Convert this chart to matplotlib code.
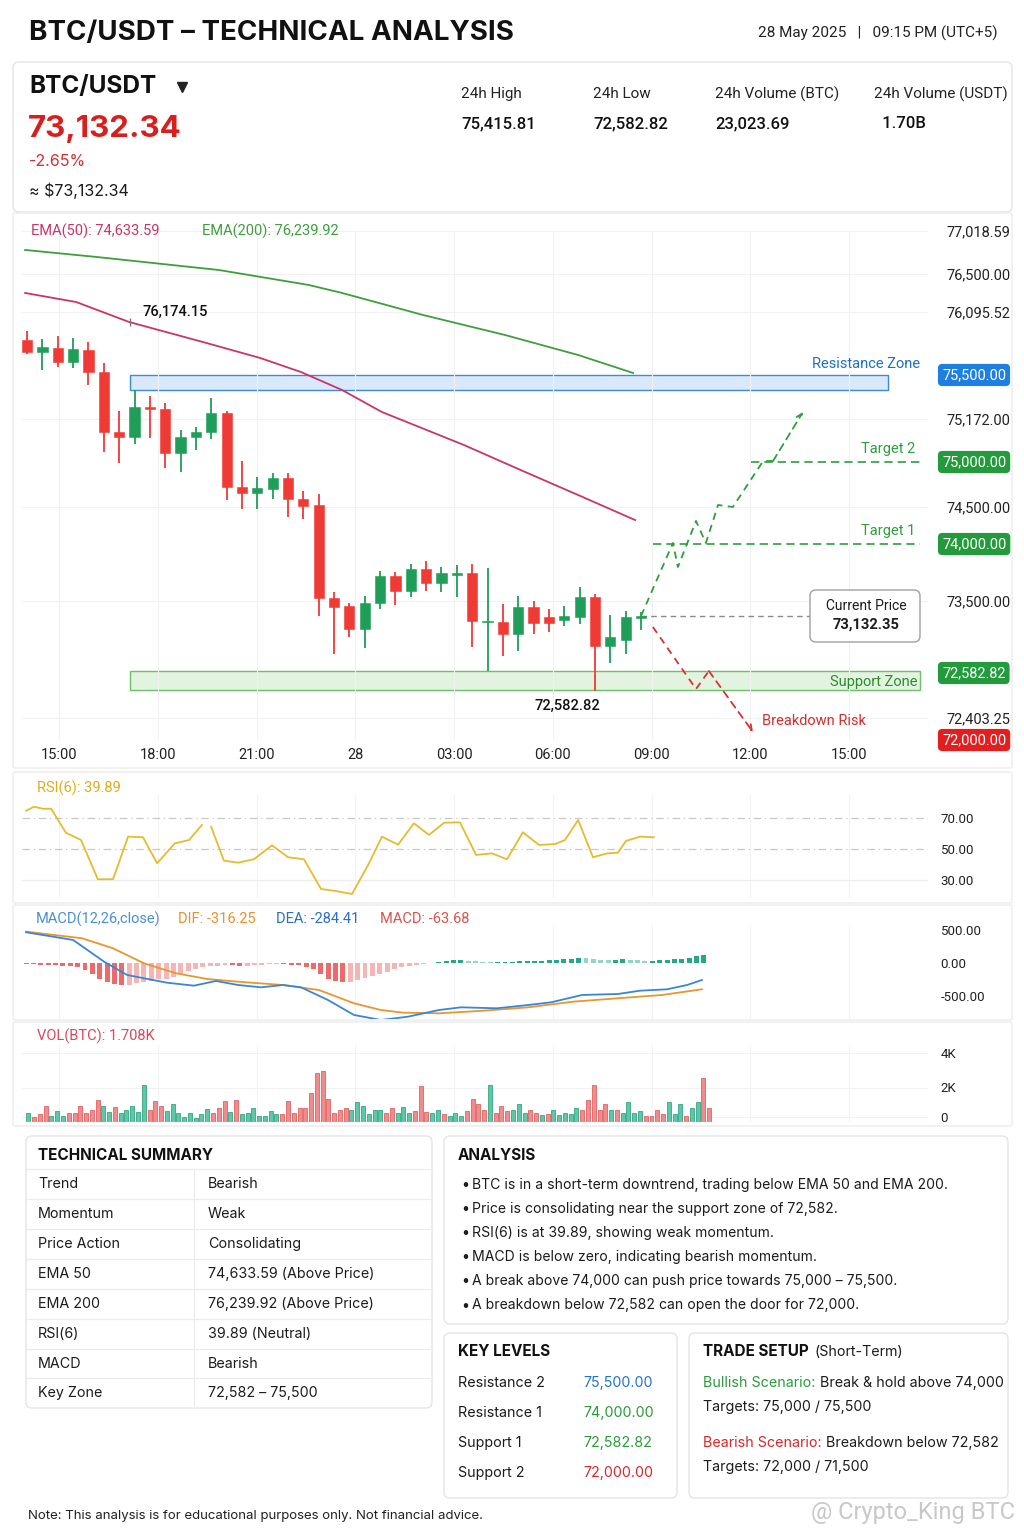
import numpy as np
import matplotlib
matplotlib.use("Agg")
import matplotlib.pyplot as plt
from matplotlib.patches import FancyBboxPatch, Rectangle
from matplotlib.transforms import blended_transform_factory
from matplotlib.ticker import NullLocator

plt.rcParams['font.family'] = ['Inter', 'DejaVu Sans']
CH = ['Roboto', 'DejaVu Sans']

W, H = 1024, 1536

# ---------------- data ----------------
OPEN = [75831, 75718, 75755, 75623, 75736, 75529, 75120, 75100, 75262, 75247, 75036, 75100, 75120, 75217,
        74722, 74656, 74700, 74822, 74589, 74522, 73526, 73436, 73143, 73475, 73719, 73588, 73781, 73658,
        73728, 73746, 73233, 73233, 73080, 73424, 73296, 73258, 73296, 73535, 72927, 73003, 73283]
HIGH = [75916, 75840, 75869, 75850, 75812, 75614, 75232, 75388, 75344, 75291, 75128, 75140, 75329, 75232,
        75004, 74833, 74878, 74878, 74678, 74645, 73579, 73475, 73544, 73763, 73754, 73825, 73851, 73798,
        73816, 73825, 73790, 73462, 73544, 73500, 73398, 73436, 73623, 73562, 73322, 73373, 73360]
LOW = [75699, 75547, 75576, 75566, 75426, 75040, 74989, 75072, 75096, 74933, 74889, 75048, 75092, 74578,
       74473, 74473, 74589, 74365, 74338, 73309, 72825, 73041, 72901, 73398, 73449, 73535, 73588, 73579,
       73535, 72914, 72608, 72799, 72863, 73080, 73105, 73182, 73207, 72511, 72710, 72825, 73131]
CLOSE = [75718, 75765, 75623, 75746, 75529, 75120, 75100, 75262, 75247, 75036, 75100, 75120, 75217, 74722,
         74656, 74711, 74822, 74589, 74511, 73526, 73424, 73143, 73475, 73719, 73588, 73781, 73658, 73746,
         73746, 73245, 73245, 73080, 73424, 73220, 73220, 73309, 73535, 72927, 73041, 73296, 73309]

EMA200_T = [-1.03, 1.15, 4.86, 7.59, 8.60, 11.06, 13.55, 15.77, 17.44]
EMA200_V = [76790, 76705, 76548, 76383, 76298, 76067, 75878, 75689, 75519]
EMA50_T = [-1.03, 0.52, 2.13, 4.37, 6.11, 7.35, 8.60, 9.81, 12.30, 14.16, 15.77, 17.50]
EMA50_V = [76298, 76202, 76001, 75812, 75661, 75528, 75388, 75224, 75068, 74889, 74633, 74324]

RES_ZONE = (75388, 75500)
SUP_ZONE = (72515, 72608)
ZONE_T0, RES_T1, SUP_T1 = 2.16, 25.18, 26.15
TARGET1, TARGET2 = 74000, 75000

BULL_T = [17.68, 18.65, 18.80, 19.35, 19.65, 20.02, 20.47, 21.39, 21.69, 22.60]
BULL_P = [73309, 74014, 73798, 74311, 74014, 74522, 74500, 75004, 75004, 75224]
BEAR_T = [18.04, 19.35, 19.74, 21.08]
BEAR_P = [73169, 72519, 72608, 72147]

PRICE_TICKS = [72000.00, 72403.25, 72582.82, 73500.00, 74000.00, 74500.00, 75000.00, 75172.00,
               75500.00, 76095.52, 76500.00, 77018.59]
BOXED = {75500.00: '#1f7fe0', 75000.00: '#239a3b', 74000.00: '#239a3b', 72582.82: '#239a3b',
         72000.00: '#e41e1e'}
X_TICKS = [0, 3, 6, 9, 12, 15, 18, 21, 24]
X_LABELS = ['15:00', '18:00', '21:00', '28', '03:00', '06:00', '09:00', '12:00', '15:00']

RSI_T = [-1.00, -0.76, -0.49, -0.24, 0.21, 0.67, 1.18, 1.64, 2.10, 2.55, 2.98, 3.52, 3.95, 4.34, 4.48,
         4.62, 5.01, 5.44, 5.92, 6.47, 6.96, 7.44, 7.96, 8.41, 8.90, 9.39, 9.81, 10.30, 10.78, 11.24,
         11.70, 12.18, 12.67, 13.15, 13.61, 14.09, 14.58, 15.07, 15.37, 15.77, 16.22, 16.65, 16.98,
         17.22, 17.65, 18.07]
RSI_V = [75.0, 77.6, 76.3, 76.3, 60.8, 56.1, 30.8, 30.8, 58.3, 57.9, 41.1, 54.0, 56.1, 65.8, np.nan,
         64.7, 42.8, 41.5, 43.7, 52.7, 45.0, 43.7, 24.5, 23.2, 21.3, 40.0, 58.3, 53.1, 66.9, 59.4,
         67.3, 67.5, 46.5, 47.5, 43.7, 61.1, 52.9, 53.5, 56.1, 69.0, 45.0, 47.5, 47.9, 55.5, 58.3, 57.9]

DEA_T = [-1.00, 0.43, 1.37, 2.07, 2.58, 3.28, 4.10, 4.77, 5.44, 6.14, 6.80, 7.35, 8.17, 8.96, 9.78,
         10.60, 11.54, 12.21, 13.30, 14.25, 14.95, 15.89, 16.98, 17.65, 18.47, 19.08, 19.53]
DEA_V = [473, 356, 27, -174, -224, -291, -336, -265, -326, -361, -326, -361, -553, -780, -856,
         -806, -705, -664, -679, -629, -588, -477, -462, -412, -391, -326, -250]
DIF_T = [-1.00, 0.70, 1.64, 2.58, 3.55, 4.50, 5.44, 6.80, 7.90, 8.96, 9.78, 10.45, 11.54, 12.91,
         14.25, 15.61, 16.98, 18.32, 19.53]
DIF_V = [482, 382, 230, 3, -148, -235, -276, -326, -402, -603, -705, -745, -755, -715, -664, -579,
         -527, -477, -391]
HIST = [-15, -15, -20, -25, -30, -35, -40, -50, -100, -160,
        -240, -280, -310, -330, -325, -295, -280, -260, -240, -230,
        -200, -160, -110, -80, -60, -45, -35, -25, -30, -40,
        -35, -25, -20, -15, -10, -15, -20, -30, -50, -90,
        -160, -240, -270, -285, -280, -250, -225, -190, -160, -125,
        -90, -60, -35, -20, -10,
        10, 25, 40, 50, 55, 45, 35, 25, 20, 20,
        25, 30, 35, 35, 40, 40, 50, 60, 65, 75,
        90, 85, 75, 60, 55, 60, 65, 60, 50, 45,
        45, 50, 60, 65, 75, 85, 110, 135]
HIST_SPAN = (-1.00, 19.59)

VOL = [0.54, 0.30, 0.44, 0.93, 0.35, 0.64, 0.35, 0.50, 0.50, 0.93,
       0.54, 0.70, 1.28, 0.93, 0.58, 0.89, 0.54, 0.70, 0.93, 0.58,
       2.14, 0.70, 1.22, 0.93, 0.64, 1.06, 0.54, 0.30, 0.54, 0.25,
       0.44, 0.73, 0.50, 0.83, 1.22, 0.58, 1.28, 0.44, 0.54, 0.83,
       0.35, 0.35, 0.64, 0.44, 0.44, 1.22, 0.50, 0.83, 0.83, 1.70,
       2.86, 2.96, 1.31, 0.54, 0.70, 0.83, 0.70, 1.18, 0.93, 0.44,
       0.70, 0.70, 0.54, 0.83, 0.50, 0.89, 0.54, 0.64, 2.09, 0.58,
       0.54, 0.70, 0.44, 0.35, 0.54, 0.35, 0.64, 1.31, 1.03, 0.70,
       2.12, 0.54, 0.93, 0.64, 0.70, 1.06, 0.54, 0.70, 0.54, 0.39,
       0.44, 0.70, 0.39, 0.50, 0.44, 0.83, 0.70, 1.28, 2.12, 0.70,
       1.03, 0.70, 0.70, 0.54, 1.18, 0.50, 0.64, 0.35, 0.35, 0.70,
       0.44, 1.16, 0.44, 1.06, 0.35, 0.83, 1.16, 2.57, 0.83]
VOL_DIR = ("uddduuuddd" "ddduuduuuu" "uddduuuuuu" "uuddduduuu" "uuuudddddd" "dddddduuuu"
           "uudduuuddd" "uuduuudddd" "uddduuuddu" "duuuuudddd" "duduuuuddd" "duuuduudd")
VOL_SPAN = (-0.93, 19.75)

SUMMARY = [("Trend", "Bearish"), ("Momentum", "Weak"), ("Price Action", "Consolidating"),
           ("EMA 50", "74,633.59 (Above Price)"), ("EMA 200", "76,239.92 (Above Price)"),
           ("RSI(6)", "39.89 (Neutral)"), ("MACD", "Bearish"), ("Key Zone", "72,582 \u2013 75,500")]
ANALYSIS = ["BTC is in a short-term downtrend, trading below EMA 50 and EMA 200.",
            "Price is consolidating near the support zone of 72,582.",
            "RSI(6) is at 39.89, showing weak momentum.",
            "MACD is below zero, indicating bearish momentum.",
            "A break above 74,000 can push price towards 75,000 \u2013 75,500.",
            "A breakdown below 72,582 can open the door for 72,000."]
KEY_LEVELS = [("Resistance 2", "75,500.00", '#1f74d0'), ("Resistance 1", "74,000.00", '#2a9a3a'),
              ("Support 1", "72,582.82", '#2a9a3a'), ("Support 2", "72,000.00", '#d62828')]

# ---------------- colours ----------------
RED = '#f03a35'
GREEN = '#1e9e58'
EMA50_C = '#c9356a'
EMA200_C = '#3f9e3f'
TXT = '#1c1c1c'
BODY_FS = 10.3

# ---------------- scale for price axis ----------------
TICK_POS = np.array([0, 22, 67, 139, 196, 233, 278, 321, 365, 428, 466, 509], float)
PT = np.array(PRICE_TICKS, float)


def _lin(v, xp, fp):
    v = np.asarray(v, float)
    out = np.interp(v, xp, fp)
    lo_s = (fp[1] - fp[0]) / (xp[1] - xp[0])
    hi_s = (fp[-1] - fp[-2]) / (xp[-1] - xp[-2])
    out = np.where(v < xp[0], fp[0] + (v - xp[0]) * lo_s, out)
    out = np.where(v > xp[-1], fp[-1] + (v - xp[-1]) * hi_s, out)
    return out


def fwd(v):
    return _lin(v, PT, TICK_POS)


def inv(p):
    return _lin(p, TICK_POS, PT)


# ---------------- figure ----------------
fig = plt.figure(figsize=(W / 100, H / 100), dpi=100)
fig.patch.set_facecolor('white')


def rect(x0, y0, x1, y1):
    return [x0 / W, 1 - y1 / H, (x1 - x0) / W, (y1 - y0) / H]


bg = fig.add_axes([0, 0, 1, 1], zorder=0)
bg.set_xlim(0, W); bg.set_ylim(H, 0); bg.axis('off')
ov = fig.add_axes([0, 0, 1, 1], zorder=10)
ov.set_xlim(0, W); ov.set_ylim(H, 0); ov.axis('off'); ov.patch.set_alpha(0)


def box(a, x0, y0, x1, y1, r=6, ec='#e4e4e4', fc='white', lw=1.0, z=1):
    a.add_patch(FancyBboxPatch((x0, y0), x1 - x0, y1 - y0,
                               boxstyle=f'round,pad=0,rounding_size={r}', ec=ec, fc=fc, lw=lw, zorder=z))


def txt(x, y, s, a=None, **kw):
    a = a or ov
    kw.setdefault('va', 'center')
    kw.setdefault('color', TXT)
    return a.text(x, y, s, **kw)


# panels
box(bg, 13, 62, 1012, 212)
box(bg, 13, 213, 1012, 768, r=2, ec='#ececec')
box(bg, 13, 772, 1012, 903, r=2, ec='#ececec')
box(bg, 13, 905, 1012, 1020, r=2, ec='#ececec')
box(bg, 13, 1022, 1012, 1126, r=2, ec='#ececec')

# header
txt(29, 33, "BTC/USDT \u2013 TECHNICAL ANALYSIS", fontsize=20, fontweight='bold', color='#111')
txt(998, 33, "28 May 2025   |   09:15 PM (UTC+5)", fontsize=11, ha='right', color='#222', family=CH)
txt(29, 87, "BTC/USDT", fontsize=17.5, fontweight='bold', color='#111')
ov.plot([182], [87], marker='v', ms=6.5, color='#222', zorder=11)
txt(28, 129, "73,132.34", fontsize=22.5, fontweight='bold', color='#d91e1e')
txt(29, 162, "-2.65%", fontsize=11.5, color='#d32f2f')
txt(29, 191, "\u2248 $73,132.34", fontsize=11.5, color='#1c1c1c')
STATS = [("24h High", "75,415.81", 461), ("24h Low", "72,582.82", 593),
         ("24h Volume (BTC)", "23,023.69", 715), ("24h Volume (USDT)", "  1.70B", 874)]
for lab, val, x in STATS:
    txt(x, 94, lab, fontsize=11, family=CH, color='#222')
    txt(x, 124, val, fontsize=12, family=CH, color='#111', fontweight='medium')

# ---------------- main chart ----------------
XL = ((22 - 59) / 32.92, (928 - 59) / 32.92)
ax = fig.add_axes(rect(22, 231, 928, 740), zorder=2)
ax.patch.set_alpha(0)
ax.set_yscale('function', functions=(fwd, inv))
ax.set_ylim(PRICE_TICKS[0], PRICE_TICKS[-1])
ax.set_xlim(*XL)
for s in ax.spines.values():
    s.set_visible(False)
plain = [p for p in PRICE_TICKS if p not in BOXED]
ax.set_yticks(plain)
ax.set_yticklabels([f"{p:,.2f}" for p in plain], fontsize=10.5, color='#222', family=CH)
ax.yaxis.set_minor_locator(NullLocator())
ax.yaxis.tick_right()
ax.tick_params(axis='y', length=0, pad=13)
ax.set_xticks(X_TICKS)
ax.set_xticklabels(X_LABELS, fontsize=10.5, color='#222', family=CH)
ax.tick_params(axis='x', length=0, pad=6)
ax.grid(True, color='#f1f1f1', lw=0.8, zorder=0)

n = len(OPEN)
O, Hh, L, C = (np.array(a, float) for a in (OPEN, HIGH, LOW, CLOSE))
T0, T1 = -0.97, 17.68
t = np.linspace(T0, T1, n)
cols = np.where(C >= O, GREEN, RED)

# zones
ax.add_patch(Rectangle((ZONE_T0, RES_ZONE[0]), RES_T1 - ZONE_T0, RES_ZONE[1] - RES_ZONE[0],
                       fc='#d9e9fb', ec='#3f8ad6', lw=1.0, zorder=1))
ax.add_patch(Rectangle((ZONE_T0, SUP_ZONE[0]), SUP_T1 - ZONE_T0, SUP_ZONE[1] - SUP_ZONE[0],
                       fc='#e2f4df', ec='#6cc06c', lw=1.0, zorder=1))

# EMAs
ax.plot(EMA200_T, EMA200_V, color=EMA200_C, lw=1.3, zorder=2)
ax.plot(EMA50_T, EMA50_V, color=EMA50_C, lw=1.3, zorder=2)

# candles
ax.vlines(t, L, Hh, colors=cols, lw=1.3, zorder=3)
body_lo = np.minimum(O, C)
body_h = np.maximum(np.abs(C - O), 14)
ax.bar(t, body_h, bottom=body_lo, width=0.31, color=cols, edgecolor=cols, lw=0.4, zorder=4)

# high / low annotations
ax.vlines([2.16], [75963], [76039], colors='#777', lw=1.0, zorder=3)
ax.text(3.52, 76095.52, "76,174.15", fontsize=10.5, color='#111', ha='center', va='center',
        family=CH, fontweight='medium')
ilow = int(np.argmin(L))
ax.annotate("72,582.82", xy=(t[ilow], L[ilow]), xytext=(-20, -6), textcoords='offset points',
            ha='center', va='top', fontsize=10.5, color='#111', family=CH, fontweight='medium')

# targets
ax.hlines(TARGET1, 18.04, 26.15, colors='#2e9e3e', linestyles=(0, (5, 3)), lw=1.2, zorder=2)
ax.hlines(TARGET2, 21.02, 26.15, colors='#2e9e3e', linestyles=(0, (5, 3)), lw=1.2, zorder=2)
ax.annotate("Target 1", xy=(26.15, TARGET1), xytext=(-3, 4), textcoords='offset points',
            ha='right', va='bottom', fontsize=10.5, color='#2e9e3e', family=CH)
ax.annotate("Target 2", xy=(26.15, TARGET2), xytext=(-3, 4), textcoords='offset points',
            ha='right', va='bottom', fontsize=10.5, color='#2e9e3e', family=CH)
ax.annotate("Resistance Zone", xy=(26.15, RES_ZONE[1]), xytext=(0, 3), textcoords='offset points',
            ha='right', va='bottom', fontsize=10.5, color='#1f6fc5', family=CH)
ax.annotate("Support Zone", xy=(26.15, SUP_ZONE[0]), xytext=(-2, 1), textcoords='offset points',
            ha='right', va='bottom', fontsize=10.5, color='#2e8b2e', family=CH)

# scenario paths
ax.plot(BULL_T[:-1], BULL_P[:-1], color='#2e9e3e', lw=1.3, ls=(0, (4, 3)), zorder=5)
ax.annotate('', xy=(BULL_T[-1], BULL_P[-1]), xytext=(BULL_T[-2], BULL_P[-2]),
            arrowprops=dict(arrowstyle='->', color='#2e9e3e', lw=1.3, ls=(0, (4, 3)),
                            shrinkA=0, shrinkB=0), zorder=5)
ax.plot(BEAR_T[:-1], BEAR_P[:-1], color='#d93030', lw=1.3, ls=(0, (4, 3)), zorder=5)
ax.annotate('', xy=(BEAR_T[-1], BEAR_P[-1]), xytext=(BEAR_T[-2], BEAR_P[-2]),
            arrowprops=dict(arrowstyle='->', color='#d93030', lw=1.3, ls=(0, (4, 3)),
                            shrinkA=0, shrinkB=0), zorder=5)
ax.text(21.36, 72348, "Breakdown Risk", fontsize=10.5, color='#d32f2f', ha='left', va='center', family=CH)

# current price line
ax.hlines(C[-1], t[-1], 22.81, colors='#8a8a8a', linestyles=(0, (4, 3)), lw=1.0, zorder=3)

# boxed right labels
btr = blended_transform_factory(ax.transAxes, ax.transData)
for p, c in BOXED.items():
    ax.text(1 + 14 / 906, p, f"{p:,.2f}", transform=btr, ha='left', va='center', fontsize=10.5,
            color='white', family=CH, clip_on=False, zorder=6,
            bbox=dict(boxstyle='round,pad=0.28,rounding_size=0.3', fc=c, ec='none'))

# legend texts
txt(31, 231, "EMA(50): 74,633.59", fontsize=10.5, color=EMA50_C, family=CH)
txt(202, 231, "EMA(200): 76,239.92", fontsize=10.5, color=EMA200_C, family=CH)

# current price box
box(ov, 810, 590, 920, 642, r=6, ec='#a0a0a0', z=11)
txt(866, 606, "Current Price", fontsize=10, ha='center', family=CH, zorder=12)
txt(866, 625, "73,132.35", fontsize=10.5, ha='center', fontweight='bold', family=CH, zorder=12)


# ---------------- sub panels ----------------
def sub(y0, y1):
    a = fig.add_axes(rect(22, y0, 928, y1), zorder=2)
    a.patch.set_alpha(0)
    a.set_xlim(*XL)
    for s in a.spines.values():
        s.set_visible(False)
    a.set_xticks(X_TICKS)
    a.set_xticklabels([])
    a.tick_params(axis='x', length=0)
    a.yaxis.tick_right()
    a.tick_params(axis='y', length=0, pad=9, labelsize=9.5, labelcolor='#222')
    a.grid(True, axis='x', color='#f3f3f3', lw=0.8, zorder=0)
    return a


# RSI
ar = sub(795, 897)
ar.set_ylim(19.35, 85.16)
ar.axhline(70, color='#c8c8c8', lw=0.9, ls=(0, (6, 3, 1, 3)))
ar.axhline(50, color='#c8c8c8', lw=0.9, ls=(0, (6, 3, 1, 3)))
ar.axhline(30, color='#ececec', lw=0.9)
ar.plot(RSI_T, RSI_V, color='#e6bb2e', lw=1.3)
ar.set_yticks([70, 50, 30])
ar.set_yticklabels(['70.00', '50.00', '30.00'], family=CH)
txt(37, 788, "RSI(6): 39.89", fontsize=10.5, color='#e0ac1c', family=CH)

# MACD
am = sub(925, 1019)
am.set_ylim(-841, 583)
ht = np.linspace(HIST_SPAN[0], HIST_SPAN[1], len(HIST))
hv = np.array(HIST, float)
prev = np.concatenate([[hv[0]], hv[:-1]])
hcols = []
for v, pv in zip(hv, prev):
    if v < 0:
        hcols.append('#ec6a6a' if v <= pv else '#f5b5b5')
    else:
        hcols.append('#26a68a' if v >= pv else '#94d6c6')
am.bar(ht, hv, width=0.15, color=hcols, zorder=2)
am.plot(DIF_T, DIF_V, color='#e8962e', lw=1.3, zorder=3)
am.plot(DEA_T, DEA_V, color='#3a86d6', lw=1.3, zorder=3)
am.set_yticks([500, 0, -500])
am.set_yticklabels(['500.00', '0.00', '-500.00'], family=CH)
txt(36, 919, "MACD(12,26,close)", fontsize=10.5, color='#4b8fd2', family=CH)
txt(178, 919, "DIF: -316.25", fontsize=10.5, color='#e8912d', family=CH)
txt(276, 919, "DEA: -284.41", fontsize=10.5, color='#2a6fc0', family=CH)
txt(380, 919, "MACD: -63.68", fontsize=10.5, color='#d9534f', family=CH)

# VOL
av = sub(1045, 1122)
av.set_ylim(0, 77 / 17.25)
vt = np.linspace(VOL_SPAN[0], VOL_SPAN[1], len(VOL))
vfc = ['#5dc8a8' if d == 'u' else '#f28b8b' for d in VOL_DIR]
vec = ['#35a585' if d == 'u' else '#e06262' for d in VOL_DIR]
av.bar(vt, VOL, width=0.12, color=vfc, edgecolor=vec, lw=0.6, zorder=2)
av.set_yticks([4, 2, 0.3])
av.set_yticklabels(['4K', '2K', '0'], family=CH)
av.grid(True, axis='y', color='#f1f1f1', lw=0.8, zorder=0)
av.axhline(0, color='#e6e6e6', lw=0.8)
txt(37, 1036, "VOL(BTC): 1.708K", fontsize=10.5, color='#d9485a', family=CH)

# ---------------- bottom section ----------------
box(bg, 26, 1136, 432, 1408)
txt(38, 1155, "TECHNICAL SUMMARY", fontsize=11, fontweight='bold', color='#111')
row_y = [1184, 1214, 1244, 1274, 1304, 1334, 1364, 1393]
for i, (k, v) in enumerate(SUMMARY):
    yline = row_y[i] - 15
    ov.plot([26, 432], [yline, yline], color='#ececec', lw=0.9, zorder=11)
    txt(38, row_y[i], k, fontsize=BODY_FS)
    txt(208, row_y[i], v, fontsize=BODY_FS)
ov.plot([194, 194], [1169, 1408], color='#ececec', lw=0.9, zorder=11)

box(bg, 444, 1136, 1008, 1324)
txt(458, 1155, "ANALYSIS", fontsize=11, fontweight='bold', color='#111')
for i, s in enumerate(ANALYSIS):
    y = 1185 + i * 24.1
    txt(461, y, "\u2022", fontsize=BODY_FS, ha='left')
    txt(472, y, s, fontsize=10.1)

box(bg, 444, 1333, 677, 1498)
txt(458, 1352, "KEY LEVELS", fontsize=11, fontweight='bold', color='#111')
for i, (k, v, c) in enumerate(KEY_LEVELS):
    y = 1383 + i * 30
    txt(458, y, k, fontsize=BODY_FS)
    txt(583, y, v, fontsize=BODY_FS, color=c)

box(bg, 689, 1333, 1008, 1498)
t1 = txt(703, 1352, "TRADE SETUP", fontsize=11, fontweight='bold', color='#111')
ov.annotate("(Short-Term)", xy=(1, 0.5), xycoords=t1, xytext=(4, 0), textcoords='offset points',
            va='center', ha='left', fontsize=BODY_FS, color=TXT)
b1 = txt(703, 1383, "Bullish Scenario:", fontsize=BODY_FS, color='#2a9a3a')
ov.annotate("Break & hold above 74,000", xy=(1, 0.5), xycoords=b1, xytext=(3, 0),
            textcoords='offset points', va='center', ha='left', fontsize=BODY_FS, color=TXT)
txt(703, 1407, "Targets: 75,000 / 75,500", fontsize=BODY_FS)
b2 = txt(703, 1443, "Bearish Scenario:", fontsize=BODY_FS, color='#d62828')
ov.annotate("Breakdown below 72,582", xy=(1, 0.5), xycoords=b2, xytext=(3, 0),
            textcoords='offset points', va='center', ha='left', fontsize=BODY_FS, color=TXT)
txt(703, 1467, "Targets: 72,000 / 71,500", fontsize=BODY_FS)

txt(28, 1516, "Note: This analysis is for educational purposes only. Not financial advice.",
    fontsize=9.5, color='#222')
txt(1015, 1512, "@ Crypto_King BTC", fontsize=17, color='#c8c8c8', ha='right', family=CH)

fig.savefig("out.png", dpi=100, facecolor='white')
